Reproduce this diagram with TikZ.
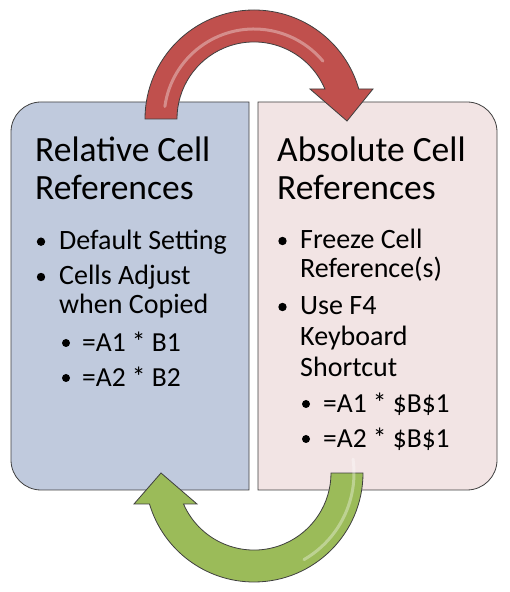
\documentclass[tikz,border=0pt]{standalone}
\usepackage{fontspec}
\setmainfont{Carlito}
\usepackage{tikz}
\definecolor{relblue}{HTML}{C0CADD}
\definecolor{abspink}{HTML}{F2E4E4}
\definecolor{arrred}{HTML}{C0504D}
\definecolor{arrgreen}{HTML}{9BBB59}
\definecolor{edgegray}{HTML}{3F3F3F}

\begin{document}
\begin{tikzpicture}[x=1pt,y=1pt,
  panel/.style={draw=edgegray,line width=0.8pt},
  bigarrow/.style={draw=edgegray,line width=0.8pt},
  gloss/.style={white,opacity=0.35,line width=3pt,line cap=round},
  headtext/.style={anchor=base west,inner sep=0pt,font=\fontsize{35.5}{42}\selectfont},
  itemtext/.style={anchor=base west,inner sep=0pt,font=\fontsize{28}{33}\selectfont},
  subtext/.style={anchor=base west,inner sep=0pt,font=\fontsize{27.5}{33}\selectfont},
  bulletdot/.style={fill=black}]
\useasboundingbox (0,0) rectangle (509,592);

% Relative panel
\draw[panel,fill=relblue] (249,102) -- (41,102) arc[start angle=270,end angle=180,radius=30]
  -- (11,460) arc[start angle=180,end angle=90,radius=30] -- (249,490) -- cycle;

% Absolute panel
\draw[panel,fill=abspink] (258,102) -- (258,490) -- (467,490) arc[start angle=90,end angle=0,radius=30]
  -- (497,132) arc[start angle=0,end angle=-90,radius=30] -- cycle;

% Red arrow (relative -> absolute)
\draw[bigarrow,fill=arrred] (145,473) arc[start angle=180,end angle=16,radius=109]
  -- (373,503) -- (347,471) -- (310,503) -- (324.9,503)
  arc[start angle=22.9,end angle=180,radius=77] -- cycle;
\draw[gloss] (254,473) ++(172:90) arc[start angle=172,end angle=40,radius=90];

% Green arrow (absolute -> relative)
\draw[bigarrow,fill=arrgreen] (363,119) arc[start angle=0,end angle=-163.5,radius=109]
  -- (134,88) -- (161,119) -- (197,88) -- (183.5,88)
  arc[start angle=-156.3,end angle=0,radius=77] -- cycle;
\draw[gloss] (254,119) ++(8:100) arc[start angle=8,end angle=-60,radius=100];

% Relative text
\node[headtext] (relHeadA) at (35,430.3) {Relative Cell};
\node[headtext] (relHeadB) at (35,392) {References};
\fill[bulletdot] (41,350.3) circle (4.2);
\node[itemtext] (relItemA) at (59,342) {Default Setting};
\fill[bulletdot] (41,315) circle (4.2);
\node[itemtext] (relItemB) at (59,307) {Cells Adjust};
\node[itemtext] (relItemC) at (59,278) {when Copied};
\fill[bulletdot] (66,249) circle (4);
\node[subtext] (relSubA) at (82,240.3) {=A1 * B1};
\fill[bulletdot] (66,214) circle (4);
\node[subtext] (relSubB) at (82,205.3) {=A2 * B2};

% Absolute text
\node[headtext] (absHeadA) at (277,430.3) {Absolute Cell};
\node[headtext] (absHeadB) at (277,392) {References};
\fill[bulletdot] (282.5,351) circle (4.2);
\node[itemtext] (absItemA) at (300,343) {Freeze Cell};
\node[itemtext] (absItemB) at (300,314) {Reference(s)};
\fill[bulletdot] (282.5,285) circle (4.2);
\node[itemtext] (absItemC) at (300,277) {Use F4};
\node[itemtext] (absItemD) at (300,246) {Keyboard};
\node[itemtext] (absItemE) at (300,215) {Shortcut};
\fill[bulletdot] (306,188) circle (4);
\node[subtext] (absSubA) at (323,179) {=A1 * \$B\$1};
\fill[bulletdot] (306,153) circle (4);
\node[subtext] (absSubB) at (323,144) {=A2 * \$B\$1};
\end{tikzpicture}
\end{document}
